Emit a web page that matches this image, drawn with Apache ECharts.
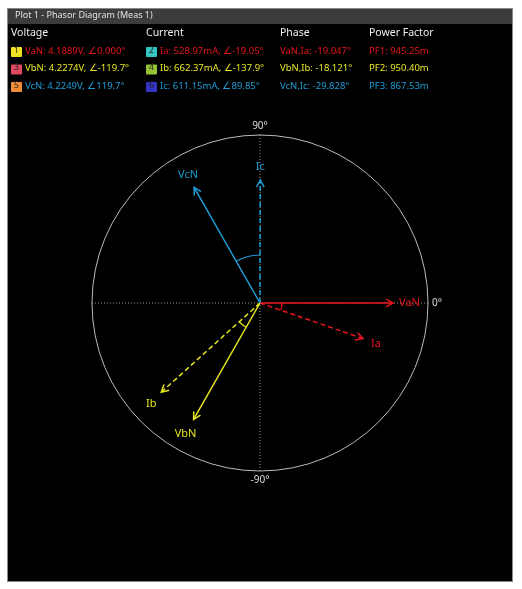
<!DOCTYPE html>
<html>
<head>
<meta charset="utf-8">
<script src="https://cdn.jsdelivr.net/npm/echarts@6/dist/echarts.min.js"></script>
<style>
  html, body { margin: 0; padding: 0; background: #fff; }
  #chart { position: absolute; left: 7px; top: 8px; width: 506px; height: 574px; background: #000; border: 1px solid #888; box-sizing: border-box; }
</style>
</head>
<body>
<div id="chart"></div>
<script>
// phasor vectors: name, magnitude (drawn length on the scope), angle (deg), dashed
const vecNames = ["VaN", "VbN", "VcN", "Ia", "Ib", "Ic"];
const vecLength = [133, 134, 133, 109, 133, 123];
const vecAngle = [0.0, -119.7, 119.7, -19.05, -137.9, 89.85];
const vecDashed = [0, 0, 0, 1, 1, 1];
const vecColor = ["#e8141c", "#e6e61e", "#1e9ed8", "#e8141c", "#e6e61e", "#1e9ed8"];

// phase angle arcs between voltage and current
const arcRadius = [22, 28, 48];
const arcFrom = [-19.05, -137.9, 89.85];
const arcTo = [0.0, -119.7, 119.7];
const arcColor = ["#e8141c", "#e6e61e", "#1e9ed8"];

// readout table
const headers = ["Voltage", "Current", "Phase", "Power Factor"];
const voltageRows = ["VaN: 4.1889V, ∠0.000°", "VbN: 4.2274V, ∠-119.7°", "VcN: 4.2249V, ∠119.7°"];
const currentRows = ["Ia: 528.97mA, ∠-19.05°", "Ib: 662.37mA, ∠-137.9°", "Ic: 611.15mA, ∠89.85°"];
const phaseRows = ["VaN,Ia: -19.047°", "VbN,Ib: -18.121°", "VcN,Ic: -29.828°"];
const pfRows = ["PF1: 945.25m", "PF2: 950.40m", "PF3: 867.53m"];
const rowColors = ["#e8141c", "#e6e61e", "#1e9ed8"];
const voltBoxes = ["1", "3", "5"];
const voltBoxColors = ["#f2e024", "#e04860", "#f08c34"];
const currBoxes = ["2", "4", "6"];
const currBoxColors = ["#34c4c4", "#94c434", "#3434c4"];

// label offsets per vector (px from the tip)
const labelOffset = { VaN: [6, 0, "left"], VbN: [-8, 14, "center"], VcN: [-6, -13, "center"], Ia: [8, 5, "left"], Ib: [-10, 12, "center"], Ic: [0, -13, "center"] };

const FONT = "Noto Sans";
const chart = echarts.init(document.getElementById("chart"));

const graphics = [
  { type: "rect", left: 0, top: 0, shape: { width: 506, height: 15 }, style: { fill: "#3c3c3c" } },
  { type: "text", left: 7, top: 2, style: { text: "Plot 1 - Phasor Diagram (Meas 1)", fill: "#e0e0e0", font: "9px " + FONT } }
];
const colX = [3, 138, 272, 361];
headers.forEach((h, i) => graphics.push({ type: "text", left: colX[i], top: 19, style: { text: h, fill: "#f0f0f0", font: "10.5px " + FONT } }));
function addBox(x, y, label, color) {
  graphics.push({ type: "rect", left: x, top: y, shape: { width: 11, height: 10, r: 1 }, style: { fill: color } });
  graphics.push({ type: "text", left: x + 3, top: y - 1, style: { text: label, fill: "#222", font: "8.5px " + FONT } });
}
for (let i = 0; i < 3; i++) {
  const y = 38 + i * 17.5;
  addBox(colX[0], y, voltBoxes[i], voltBoxColors[i]);
  graphics.push({ type: "text", left: colX[0] + 14, top: y - 1, style: { text: voltageRows[i], fill: rowColors[i], font: "9.5px " + FONT } });
  addBox(colX[1], y, currBoxes[i], currBoxColors[i]);
  graphics.push({ type: "text", left: colX[1] + 14, top: y - 1, style: { text: currentRows[i], fill: rowColors[i], font: "9.5px " + FONT } });
  graphics.push({ type: "text", left: colX[2], top: y - 1, style: { text: phaseRows[i], fill: rowColors[i], font: "9.5px " + FONT } });
  graphics.push({ type: "text", left: colX[3], top: y - 1, style: { text: pfRows[i], fill: rowColors[i], font: "9.5px " + FONT } });
}

const vecData = vecNames.map((n, i) => [vecLength[i], vecAngle[i], n, vecDashed[i], vecColor[i]]);
const arcData = arcRadius.map((r, i) => [r, arcFrom[i], arcTo[i], arcColor[i]]);

chart.setOption({
  backgroundColor: "#000",
  animation: false,
  graphic: graphics,
  polar: { center: [252, 294], radius: 168 },
  angleAxis: {
    type: "value", min: -180, max: 180, interval: 90, startAngle: 180, clockwise: false,
    axisLine: { lineStyle: { color: "#bbb", width: 1 } },
    axisTick: { show: false },
    splitLine: { show: true, lineStyle: { color: "#999", type: [1, 2], width: 1 } },
    axisLabel: {
      color: "#ddd", fontSize: 10, fontFamily: FONT, margin: 4,
      formatter: v => v === -180 ? "" : v === 180 ? "±180°" : v + "°"
    }
  },
  radiusAxis: { type: "value", min: 0, max: 168, show: false, splitLine: { show: false } },
  series: [
    {
      type: "custom", coordinateSystem: "polar", data: arcData, silent: true,
      renderItem: (params, api) => {
        const c = api.coord([0, 0]);
        const r = api.value(0);
        return {
          type: "arc",
          shape: { cx: c[0], cy: c[1], r: r, startAngle: -api.value(2) * Math.PI / 180, endAngle: -api.value(1) * Math.PI / 180 },
          style: { stroke: api.value(3), lineWidth: 1.2, fill: null }
        };
      }
    },
    {
      type: "custom", coordinateSystem: "polar", data: vecData, silent: true,
      renderItem: (params, api) => {
        const c = api.coord([0, 0]);
        const t = api.coord([api.value(0), api.value(1)]);
        const name = vecNames[params.dataIndex];
        const color = vecColor[params.dataIndex];
        const dashed = vecDashed[params.dataIndex] === 1;
        const a = Math.atan2(t[1] - c[1], t[0] - c[0]);
        const h = 8, s = 0.5;
        const p1 = [t[0] - h * Math.cos(a - s), t[1] - h * Math.sin(a - s)];
        const p2 = [t[0] - h * Math.cos(a + s), t[1] - h * Math.sin(a + s)];
        const off = labelOffset[name];
        return {
          type: "group",
          children: [
            { type: "line", shape: { x1: c[0], y1: c[1], x2: t[0], y2: t[1] }, style: { stroke: color, lineWidth: 1.5, lineDash: dashed ? [5, 3] : null } },
            { type: "polyline", shape: { points: [p1, t, p2] }, style: { stroke: color, lineWidth: 1.5, fill: null } },
            { type: "text", x: t[0] + off[0], y: t[1] + off[1], style: { text: name, fill: color, font: "11px " + FONT, align: off[2], verticalAlign: "middle" } }
          ]
        };
      }
    }
  ]
});
</script>
</body>
</html>
